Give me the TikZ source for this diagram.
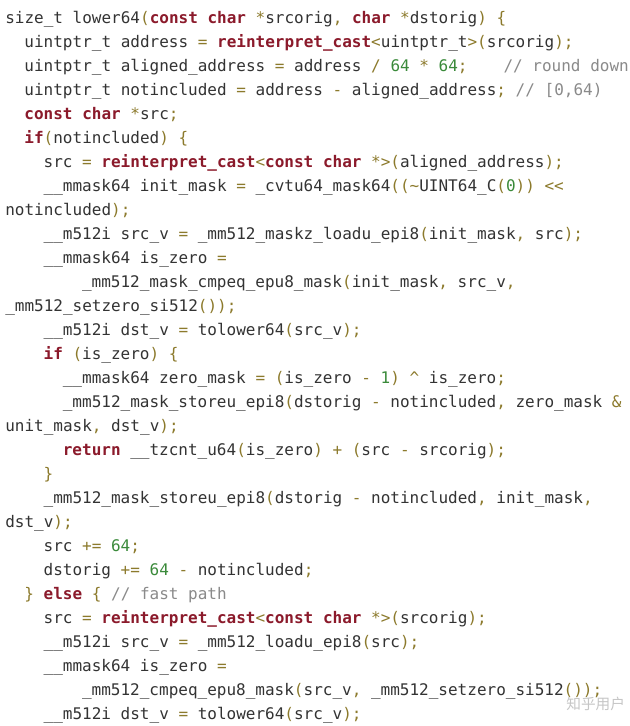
\documentclass[tikz,border=0pt]{standalone}
\usepackage{fontspec}
\setmonofont{DejaVu Sans Mono}
\newfontfamily\cjk{Noto Sans CJK SC}
\definecolor{txt}{HTML}{333333}
\definecolor{pun}{HTML}{8C7A2C}
\definecolor{kw}{HTML}{8B1A2B}
\definecolor{num}{HTML}{3A8A3A}
\definecolor{cmt}{HTML}{8A8A8A}
\newcommand\K[1]{\textcolor{kw}{\bfseries #1}}
\newcommand\N[1]{\textcolor{num}{#1}}
\newcommand\Pu[1]{\textcolor{pun}{#1}}
\newcommand\Cm[1]{\textcolor{cmt}{#1}}
\newcommand\Ln[3]{\node[codeline] (l#1) at ({3.75pt+#2*7.2pt}, {-17.25pt-#1*18pt}) {#3};}
\begin{document}
\begin{tikzpicture}[x=1pt,y=1pt,
  codeline/.style={anchor=base west,inner sep=0pt,text=txt,font=\ttfamily\fontsize{12}{14}\selectfont}]
\useasboundingbox[fill=white] (0,0) rectangle (472.5,-544.5);
\Ln{0}{0}{size\_t lower64\Pu{(}\K{const} \K{char} \Pu{*}srcorig\Pu{,} \K{char} \Pu{*}dstorig\Pu{)} \Pu{\{}}
\Ln{1}{2}{uintptr\_t address \Pu{=} \K{reinterpret\_cast}\Pu{<}uintptr\_t\Pu{>(}srcorig\Pu{);}}
\Ln{2}{2}{uintptr\_t aligned\_address \Pu{=} address \Pu{/} \N{64} \Pu{*} \N{64}\Pu{;}\hspace{27pt}\Cm{// round down}}
\Ln{3}{2}{uintptr\_t notincluded \Pu{=} address \Pu{-} aligned\_address\Pu{;} \Cm{// [0,64)}}
\Ln{4}{2}{\K{const} \K{char} \Pu{*}src\Pu{;}}
\Ln{5}{2}{\K{if}\Pu{(}notincluded\Pu{)} \Pu{\{}}
\Ln{6}{4}{src \Pu{=} \K{reinterpret\_cast}\Pu{<}\K{const} \K{char} \Pu{*>(}aligned\_address\Pu{);}}
\Ln{7}{4}{\_\_mmask64 init\_mask \Pu{=} \_cvtu64\_mask64\Pu{((\textasciitilde}UINT64\_C\Pu{(}\N{0}\Pu{))} \Pu{<<}}
\Ln{8}{0}{notincluded\Pu{);}}
\Ln{9}{4}{\_\_m512i src\_v \Pu{=} \_mm512\_maskz\_loadu\_epi8\Pu{(}init\_mask\Pu{,} src\Pu{);}}
\Ln{10}{4}{\_\_mmask64 is\_zero \Pu{=}}
\Ln{11}{8}{\_mm512\_mask\_cmpeq\_epu8\_mask\Pu{(}init\_mask\Pu{,} src\_v\Pu{,}}
\Ln{12}{0}{\_mm512\_setzero\_si512\Pu{());}}
\Ln{13}{4}{\_\_m512i dst\_v \Pu{=} tolower64\Pu{(}src\_v\Pu{);}}
\Ln{14}{4}{\K{if} \Pu{(}is\_zero\Pu{)} \Pu{\{}}
\Ln{15}{6}{\_\_mmask64 zero\_mask \Pu{=} \Pu{(}is\_zero \Pu{-} \N{1}\Pu{)} \Pu{\textasciicircum} is\_zero\Pu{;}}
\Ln{16}{6}{\_mm512\_mask\_storeu\_epi8\Pu{(}dstorig \Pu{-} notincluded\Pu{,} zero\_mask \Pu{\&}}
\Ln{17}{0}{unit\_mask\Pu{,} dst\_v\Pu{);}}
\Ln{18}{6}{\K{return} \_\_tzcnt\_u64\Pu{(}is\_zero\Pu{)} \Pu{+} \Pu{(}src \Pu{-} srcorig\Pu{);}}
\Ln{19}{4}{\Pu{\}}}
\Ln{20}{4}{\_mm512\_mask\_storeu\_epi8\Pu{(}dstorig \Pu{-} notincluded\Pu{,} init\_mask\Pu{,}}
\Ln{21}{0}{dst\_v\Pu{);}}
\Ln{22}{4}{src \Pu{+=} \N{64}\Pu{;}}
\Ln{23}{4}{dstorig \Pu{+=} \N{64} \Pu{-} notincluded\Pu{;}}
\Ln{24}{2}{\Pu{\}} \K{else} \Pu{\{} \Cm{// fast path}}
\Ln{25}{4}{src \Pu{=} \K{reinterpret\_cast}\Pu{<}\K{const} \K{char} \Pu{*>(}srcorig\Pu{);}}
\Ln{26}{4}{\_\_m512i src\_v \Pu{=} \_mm512\_loadu\_epi8\Pu{(}src\Pu{);}}
\Ln{27}{4}{\_\_mmask64 is\_zero \Pu{=}}
\Ln{28}{8}{\_mm512\_cmpeq\_epu8\_mask\Pu{(}src\_v\Pu{,} \_mm512\_setzero\_si512\Pu{());}}
\Ln{29}{4}{\_\_m512i dst\_v \Pu{=} tolower64\Pu{(}src\_v\Pu{);}}
\node[anchor=east,inner sep=0pt,text=gray!45,font=\cjk\fontsize{11}{12}\selectfont] (wm) at (469,-528) {知乎用户};
\end{tikzpicture}
\end{document}
